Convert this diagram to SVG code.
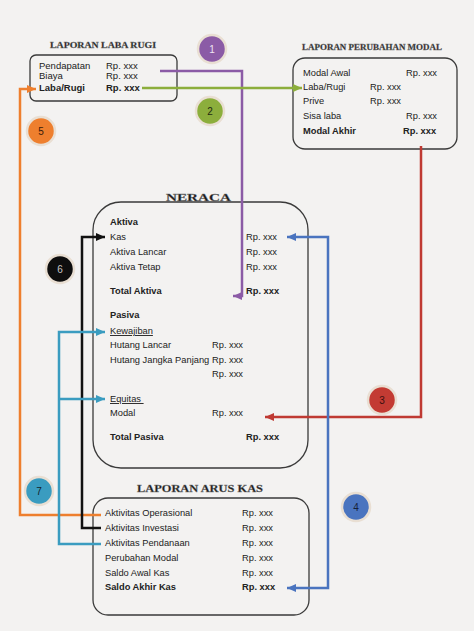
<svg xmlns="http://www.w3.org/2000/svg" width="474" height="631" viewBox="0 0 474 631">
<defs>
<style>
.bg{fill:#f3f2f1}
.box{fill:none;stroke:#3a3a3a;stroke-width:1.3}
.t{font-family:"Liberation Sans",Arial,sans-serif;font-size:9.3px;fill:#222}
.tl{font-family:"Liberation Sans",Arial,sans-serif;font-size:9.5px;fill:#222}
.b{font-weight:bold}
.u{text-decoration:underline}
.title{font-family:"Liberation Serif","Times New Roman",serif;font-weight:bold;fill:#1a1a1a;stroke:#777;stroke-width:0.3}
.ln{fill:none;stroke-width:2.5}
.num{font-family:"Liberation Sans",Arial,sans-serif;font-size:10px;text-anchor:middle}
.halo{stroke:#e9dfd3;stroke-width:2.5}
</style>
<marker id="aPurple" markerUnits="userSpaceOnUse" markerWidth="10" markerHeight="10" refX="9" refY="5" orient="auto"><path d="M0,1 L9,5 L0,9 Z" fill="#8b5ba6"/></marker>
<marker id="aGreen" markerUnits="userSpaceOnUse" markerWidth="10" markerHeight="10" refX="9" refY="5" orient="auto"><path d="M0,1 L9,5 L0,9 Z" fill="#8cae3c"/></marker>
<marker id="aRed" markerUnits="userSpaceOnUse" markerWidth="10" markerHeight="10" refX="9" refY="5" orient="auto"><path d="M0,1 L9,5 L0,9 Z" fill="#bf3a33"/></marker>
<marker id="aBlue" markerUnits="userSpaceOnUse" markerWidth="10" markerHeight="10" refX="9" refY="5" orient="auto-start-reverse"><path d="M0,1 L9,5 L0,9 Z" fill="#4a74bf"/></marker>
<marker id="aOrange" markerUnits="userSpaceOnUse" markerWidth="10" markerHeight="10" refX="9" refY="5" orient="auto"><path d="M0,1 L9,5 L0,9 Z" fill="#ee7f2e"/></marker>
<marker id="aBlack" markerUnits="userSpaceOnUse" markerWidth="10" markerHeight="10" refX="9" refY="5" orient="auto"><path d="M0,1 L9,5 L0,9 Z" fill="#111"/></marker>
<marker id="aTeal" markerUnits="userSpaceOnUse" markerWidth="10" markerHeight="10" refX="9" refY="5" orient="auto"><path d="M0,1 L9,5 L0,9 Z" fill="#3a9cc0"/></marker>
</defs>
<rect class="bg" x="0" y="0" width="474" height="631"/>

<g id="laba-rugi">
<text class="title" x="50" y="48" font-size="8" textLength="106" lengthAdjust="spacingAndGlyphs">LAPORAN LABA RUGI</text>
<rect class="box" x="30" y="55" width="147" height="46" rx="6"/>
<text class="tl" x="39" y="69">Pendapatan</text><text class="tl" x="106" y="69">Rp. xxx</text>
<text class="tl" x="39" y="79">Biaya</text><text class="tl" x="106" y="79">Rp. xxx</text>
<text class="tl b" x="39" y="91">Laba/Rugi</text><text class="tl b" x="106" y="91">Rp. xxx</text>
</g>

<g id="perubahan-modal">
<text class="title" x="302" y="50" font-size="7.5" textLength="140" lengthAdjust="spacingAndGlyphs">LAPORAN PERUBAHAN MODAL</text>
<rect class="box" x="293" y="58" width="164" height="91" rx="12"/>
<text class="t" x="303" y="76">Modal Awal</text><text class="t" x="406" y="76">Rp. xxx</text>
<text class="t" x="303" y="90">Laba/Rugi</text><text class="t" x="370" y="90">Rp. xxx</text>
<text class="t" x="303" y="104">Prive</text><text class="t" x="370" y="104">Rp. xxx</text>
<text class="t" x="303" y="119">Sisa laba</text><text class="t" x="406" y="119">Rp. xxx</text>
<text class="t b" x="303" y="134">Modal Akhir</text><text class="t b" x="403" y="134">Rp. xxx</text>
</g>

<g id="neraca">
<text class="title" x="166" y="201" font-size="11" textLength="65" lengthAdjust="spacingAndGlyphs">NERACA</text>
<rect class="box" x="93" y="202" width="215" height="266" rx="28"/>
<text class="t b" x="110" y="225">Aktiva</text>
<text class="t" x="110" y="240">Kas</text><text class="t" x="246" y="240">Rp. xxx</text>
<text class="t" x="110" y="255">Aktiva Lancar</text><text class="t" x="246" y="255">Rp. xxx</text>
<text class="t" x="110" y="270">Aktiva Tetap</text><text class="t" x="246" y="270">Rp. xxx</text>
<text class="t b" x="110" y="294">Total Aktiva</text><text class="t b" x="246" y="294">Rp. xxx</text>
<text class="t b" x="110" y="318">Pasiva</text>
<text class="t u" x="110" y="334">Kewajiban</text>
<text class="t" x="110" y="348">Hutang Lancar</text><text class="t" x="212" y="348">Rp. xxx</text>
<text class="t" x="110" y="363">Hutang Jangka Panjang</text><text class="t" x="212" y="363">Rp. xxx</text>
<text class="t" x="212" y="377">Rp. xxx</text>
<text class="t u" x="110" y="402" xml:space="preserve">Equitas </text>
<text class="t" x="110" y="416">Modal</text><text class="t" x="212" y="416">Rp. xxx</text>
<text class="t b" x="110" y="440">Total Pasiva</text><text class="t b" x="246" y="440">Rp. xxx</text>
</g>

<g id="arus-kas">
<text class="title" x="137" y="492" font-size="9.5" textLength="126" lengthAdjust="spacingAndGlyphs">LAPORAN ARUS KAS</text>
<rect class="box" x="93" y="498" width="216" height="117" rx="15"/>
<text class="t" x="105" y="516">Aktivitas Operasional</text><text class="t" x="242" y="516">Rp. xxx</text>
<text class="t" x="105" y="531">Aktivitas Investasi</text><text class="t" x="242" y="531">Rp. xxx</text>
<text class="t" x="105" y="546">Aktivitas Pendanaan</text><text class="t" x="242" y="546">Rp. xxx</text>
<text class="t" x="105" y="561">Perubahan Modal</text><text class="t" x="242" y="561">Rp. xxx</text>
<text class="t" x="105" y="576">Saldo Awal Kas</text><text class="t" x="242" y="576">Rp. xxx</text>
<text class="t b" x="105" y="590">Saldo Akhir Kas</text><text class="t b" x="242" y="590">Rp. xxx</text>
</g>

<g id="connectors">
<path class="ln" stroke="#8b5ba6" d="M160,71 H242 V296 H233" marker-end="url(#aPurple)"/>
<path class="ln" stroke="#8cae3c" d="M142,88 H302" marker-end="url(#aGreen)"/>
<path class="ln" stroke="#bf3a33" d="M421,146 V417 H265" marker-end="url(#aRed)"/>
<path class="ln" stroke="#4a74bf" d="M287,237 H328 V588 H287" marker-start="url(#aBlue)" marker-end="url(#aBlue)"/>
<path class="ln" stroke="#ee7f2e" d="M101,515 H20 V89 H36" marker-end="url(#aOrange)"/>
<path class="ln" stroke="#111" stroke-width="2" d="M101,528 H82 V237 H105" marker-end="url(#aBlack)"/>
<path class="ln" stroke="#3a9cc0" d="M101,544 H59 V332 H105" marker-end="url(#aTeal)"/>
<path class="ln" stroke="#3a9cc0" d="M59,399 H105" marker-end="url(#aTeal)"/>
</g>

<g id="badge-1"><circle class="halo" cx="212" cy="49" r="14" fill="#8b5ba6"/><text class="num" x="212" y="53" fill="#efe6f3">1</text></g>
<g id="badge-2"><circle class="halo" cx="210" cy="111" r="14" fill="#8cae3c"/><text class="num" x="210" y="115" fill="#1f2a10">2</text></g>
<g id="badge-3"><circle class="halo" cx="382" cy="400" r="14" fill="#c33b33"/><text class="num" x="382" y="404" fill="#3a1010">3</text></g>
<g id="badge-4"><circle class="halo" cx="356" cy="507" r="14" fill="#4a74bf"/><text class="num" x="356" y="511" fill="#16223a">4</text></g>
<g id="badge-5"><circle class="halo" cx="41" cy="131" r="14" fill="#ee7f2e"/><text class="num" x="41" y="135" fill="#3a1a08">5</text></g>
<g id="badge-6"><circle class="halo" cx="60" cy="269" r="14" fill="#0e0e0e"/><text class="num" x="60" y="273" fill="#c8c8c8">6</text></g>
<g id="badge-7"><circle class="halo" cx="39" cy="491" r="14" fill="#3a9cc0"/><text class="num" x="39" y="495" fill="#12232c">7</text></g>
</svg>
